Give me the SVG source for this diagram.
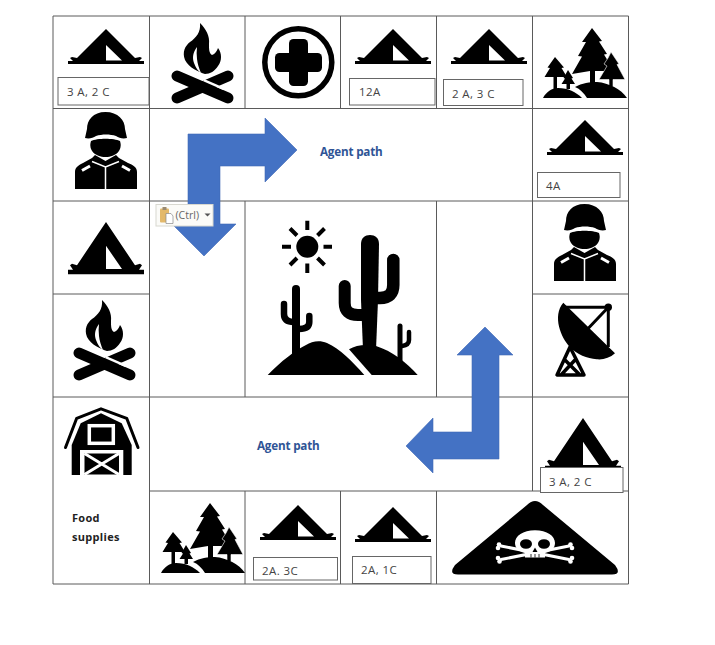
<svg xmlns="http://www.w3.org/2000/svg" width="715" height="645" viewBox="0 0 715 645">
<style>
.grid{stroke:#5a5a5a;stroke-width:1;fill:none}
.box{fill:#fff;stroke:#666;stroke-width:1}
.lbl{font-family:"Open Sans","Liberation Sans",sans-serif;font-size:11.5px;fill:#444;letter-spacing:.4px}
.path{font-family:"Open Sans","Liberation Sans",sans-serif;font-size:11.7px;font-weight:700;fill:#2f5496;letter-spacing:-.2px}
.food{font-family:"Open Sans","Liberation Sans",sans-serif;font-size:11px;font-weight:700;fill:#222;letter-spacing:.3px}
.arrow{fill:#4472c4;stroke:#3f68b5;stroke-width:.6}
</style>
<defs>
<path id="tent" fill-rule="evenodd" d="M38 0L67 29L72 28L74 29L71 32L76 32L76 35L0 35L0 32L5 32L2 29L4 28L9 29ZM38 16L38 31.5L54 31.5Z"/>
<g id="fire">
<path d="M6 75L57 53" stroke="#000" stroke-width="11" stroke-linecap="round"/>
<path d="M6 53L57 75" stroke="#000" stroke-width="11" stroke-linecap="round"/>
<path d="M32.700 57.200L52.700 65.800" stroke="#fff" stroke-width="2.400"/>
<path d="M29 0C35 6 39 13 38 21C38 26 38 30 41 32C44 31 46 28 47 25C51 30 51 38 47 43C44 48 39 51 34 51C28 49 18 45 14 37C11 29 14 23 19 19C25 15 30 9 29 0Z"/>
<path fill="#fff" d="M26 24C22 29 21 35 23 40C25 45 27 48 30 50C28 45 26.500 41 26 36C25.500 32 25.500 28 26 24Z"/>
</g>
<g id="soldier">
<path d="M30.500 0C18 0 12 8 12 17L10 26C14 27 18 26 21 24C27 22 35 22 41 24C44 26 48 27 52 26L50 17C50 8 43 0 30.500 0Z"/>
<path d="M16 29C22 26 39 26 45 29C48 38 41 45 30.500 45C20 45 13 38 16 29Z"/>
<path d="M0 77V60C0 55 4 53 8 51L17 46L20 43L30.500 49L41 43L44 46L53 51C58 53 62 55 62 60V77Z"/>
<path d="M17 49.500L30.500 55L44 49.500M30.500 55V77" fill="none" stroke="#fff" stroke-width="1.500"/>
<path d="M7 58.500L15 54M47 54L55 58.500" stroke="#fff" stroke-width="3"/>
</g>
<g id="trees">
<path d="M49 0L59 13L56 13.500L64 26L61 26.500L68 38L62 43L52 43L52 56L47 56L47 43L29 46L39 28.500L35 28L43 14L39 14Z"/>
<path d="M68 24L76 36L74 36.500L82 51.500L70 51.500L70 59L66 59L66 51.500L56 51.500L64 38L61 36L65 30Z" stroke="#fff" stroke-width=".6"/>
<path d="M12 29L21 39.500L18.500 40L24 49L14 49L14 62L10.500 62L10.500 49L1.500 49L7 40L4.500 39.500Z"/>
<path d="M25 42L30 50L28.500 50.500L32 56L27 56L27 61L23.500 61L23.500 56L18.500 56L22 50.500L20.500 50Z"/>
<path d="M0 70C3 64 9 60 15 60C25 60 33 64 39 70Z"/>
<path d="M32 59C39 55 47 54 54 54C66 55 78 61 84 70L44 70C41 65 37 61 32 59Z"/>
</g>
</defs>
<rect width="715" height="645" fill="#fff"/>
<g id="grid" class="grid">
<path d="M53 16H628.500V584H53Z"/>
<path d="M53 108.500H628.500M53 201H628.500M53 294H149.500M532.500 294H628.500M53 397H628.500M149.500 491H628.500"/>
<path d="M149.500 16V584M245 16V108.500M245 201V397M245 491V584M340.500 16V108.500M340.500 491V584M436.500 16V108.500M436.500 201V397M436.500 491V584M532.500 16V491"/>
</g>
<g id="connectors">
<path class="arrow" d="M188 134H265V118L297 150L265 182V166H220V224H236L204 256L172 224H188Z"/>
<path class="arrow" d="M485 327L513 355H499V459H433V473L406 446L433 418V432H472V355H457Z"/>
</g>
<g id="camp-1"><use href="#tent" x="68" y="29"/><rect class="box" x="58" y="77.500" width="91" height="27.500" stroke="#333"/><text class="lbl" x="67" y="96">3 A, 2 C</text></g>
<g id="fire-1"><use href="#fire" x="171" y="23"/></g>
<g id="medical"><circle cx="298.300" cy="62.300" r="33.500" fill="none" stroke="#000" stroke-width="5.500"/><rect x="275" y="53" width="47" height="19" rx="4.500"/><rect x="289" y="39" width="19" height="47" rx="4.500"/></g>
<g id="camp-2"><use href="#tent" x="355" y="29"/><rect class="box" x="349.500" y="78.500" width="85.500" height="26.500"/><text class="lbl" x="359" y="96">12A</text></g>
<g id="camp-3"><use href="#tent" x="451" y="29"/><rect class="box" x="443.500" y="79.500" width="79.500" height="26"/><text class="lbl" x="452" y="98">2 A, 3 C</text></g>
<g id="forest-1"><use href="#trees" x="543" y="28"/></g>
<g id="soldier-1"><use href="#soldier" x="75" y="112"/></g>
<g id="camp-4"><use href="#tent" x="547" y="120"/><rect class="box" x="537.500" y="172.500" width="82.500" height="25"/><text class="lbl" x="546" y="190">4A</text></g>
<g id="label-path-1"><text class="path" x="320" y="156">Agent path</text></g>
<g id="camp-5"><path transform="translate(68 222) scale(1 1.49)" d="M38 0L67 29L72 28L74 29L71 32L76 32L76 35L0 35L0 32L5 32L2 29L4 28L9 29ZM38 16L38 31.500L54 31.500Z" fill-rule="evenodd"/></g>
<g id="fire-2"><use href="#fire" x="73" y="300"/></g>
<g id="desert">
<circle cx="307.300" cy="246.700" r="11"/>
<path d="M307.300 220.700V230M307.300 263.500V273M282 246.700H291M323.500 246.700H332M290 228.500L297 235.500M317.500 258L324.500 265M290 265L297 258M317.500 235.500L324.500 228.500" stroke="#000" stroke-width="4" fill="none"/>
<path d="M267.700 375C280 362 297 349 306 345C312 341 320 340 327 343C340 349 352 361 364.300 375Z"/>
<path d="M371.700 375L349 349.300C356 345 366 344 376 346C392 351 406 362 417.700 375Z"/>
<path d="M361 244C361 238 365 235 370 235C375 235 379 238 379 244L378 300L376 350H363L361 300Z"/>
<g fill="none" stroke="#000" stroke-linecap="round">
<path d="M344.700 286V303Q344.700 315 358 315H365" stroke-width="12"/>
<path d="M393.300 260V285Q393.300 298 380 298H372" stroke-width="12.500"/>
<path d="M296 289V355" stroke-width="8"/>
<path d="M284 304V314Q284 322 294 322" stroke-width="6.500"/>
<path d="M309.300 316V322Q309.300 329 299 329" stroke-width="6.500"/>
<path d="M400 326V362" stroke-width="5"/>
<path d="M409 332V340Q409 345 402 346" stroke-width="4.500"/>
</g>
</g>
<g id="soldier-2"><use href="#soldier" x="554" y="204"/></g>
<g id="radar">
<path d="M563.300 302.700L615 353.300C610 358 603 360 596.700 359.300C587 358 577 355 570 347C561 338 552 316 563.300 302.700Z"/>
<path d="M563.300 307.300H608.300V347M608.300 307.300L586.700 330" fill="none" stroke="#000" stroke-width="3"/>
<circle cx="608.300" cy="307.300" r="3.700"/>
<path d="M570 347L557 375H584ZM565 360L580 375M575 360L561 375" fill="none" stroke="#000" stroke-width="3.500" stroke-linejoin="round"/>
</g>
<g id="barn">
<path d="M65.500 447.500L76.700 418.300L101 408.800L126.700 418.300L138 447.500" fill="none" stroke="#000" stroke-width="3" stroke-linecap="round" stroke-linejoin="round"/>
<path d="M71.700 475V445L80.700 423.300L101 413.300L121.700 423.300L131.700 445V475Z"/>
<rect x="89.300" y="425.700" width="24" height="17.600" fill="#000" stroke="#fff" stroke-width="3.500"/>
<rect x="80" y="450" width="43.300" height="25" fill="#fff"/>
<rect x="84.500" y="453.500" width="34.500" height="21"/>
<path d="M84.500 453.500L119 474.500M119 453.500L84.500 474.500" stroke="#fff" stroke-width="3"/>
<text class="food" x="72" y="522">Food</text>
<text class="food" x="72" y="541">supplies</text>
</g>
<g id="label-path-2"><text class="path" x="257" y="450">Agent path</text></g>
<g id="camp-6"><path transform="translate(545 418) scale(1 1.49)" d="M38 0L67 29L72 28L74 29L71 32L76 32L76 35L0 35L0 32L5 32L2 29L4 28L9 29ZM38 16L38 31.500L54 31.500Z" fill-rule="evenodd"/><rect class="box" x="540.500" y="467.500" width="82.500" height="25"/><text class="lbl" x="549" y="486">3 A, 2 C</text></g>
<g id="forest-2"><use href="#trees" x="161" y="503"/></g>
<g id="camp-7"><use href="#tent" x="260" y="505"/><rect class="box" x="253.500" y="557.500" width="84" height="22.500" stroke="#333"/><text class="lbl" x="262" y="575">2A. 3C</text></g>
<g id="camp-8"><use href="#tent" x="355" y="507"/><rect class="box" x="352.500" y="556.500" width="78.500" height="27"/><text class="lbl" x="361" y="574">2A, 1C</text></g>
<g id="danger">
<path d="M527 505Q535 497 543 505L615 565Q622 574.500 612 574.500L458 574.500Q448 574.500 455 565Z"/>
<path d="M501 546L569 559.500M501 559.500L569 546" stroke="#fff" stroke-width="3" stroke-linecap="round"/>
<circle cx="499" cy="544.500" r="2.300" fill="#fff"/><circle cx="498" cy="548" r="2.300" fill="#fff"/>
<circle cx="498" cy="558" r="2.300" fill="#fff"/><circle cx="499.500" cy="561.500" r="2.300" fill="#fff"/>
<circle cx="570.500" cy="544.500" r="2.300" fill="#fff"/><circle cx="572" cy="548" r="2.300" fill="#fff"/>
<circle cx="572" cy="558" r="2.300" fill="#fff"/><circle cx="570.500" cy="561.500" r="2.300" fill="#fff"/>
<path d="M535 530.300C547 530.300 555 536 555 543C555 549 550 552 545 553V557.500H525V553C520 552 515 549 515 543C515 536 523 530.300 535 530.300Z" fill="#fff"/>
<ellipse cx="526" cy="544" rx="6" ry="4.800"/><ellipse cx="544" cy="544" rx="6" ry="4.800"/>
<path d="M535 547.500L537.500 552H532.500Z"/>
<path d="M531 554V557.500M535 554V557.500M539 554V557.500" stroke="#000" stroke-width=".8"/>
</g>
<g id="paste-options">
<rect x="156" y="204.500" width="57" height="21.500" fill="#fbfbf8" stroke="#d8d8d0"/>
<rect x="160" y="208.500" width="9" height="14" rx="1" fill="#e3b96b"/>
<rect x="162.500" y="207" width="4" height="3" fill="#9a8a70"/>
<path d="M166 213.500H171L173 216V223.500H166Z" fill="#fff" stroke="#8a8a8a" stroke-width=".7"/>
<text x="175.500" y="219" font-family="'Open Sans','Liberation Sans',sans-serif" font-size="10.500" fill="#666">(Ctrl)</text>
<path d="M204.500 213.500H210.500L207.500 216.500Z" fill="#555"/>
</g>
</svg>
